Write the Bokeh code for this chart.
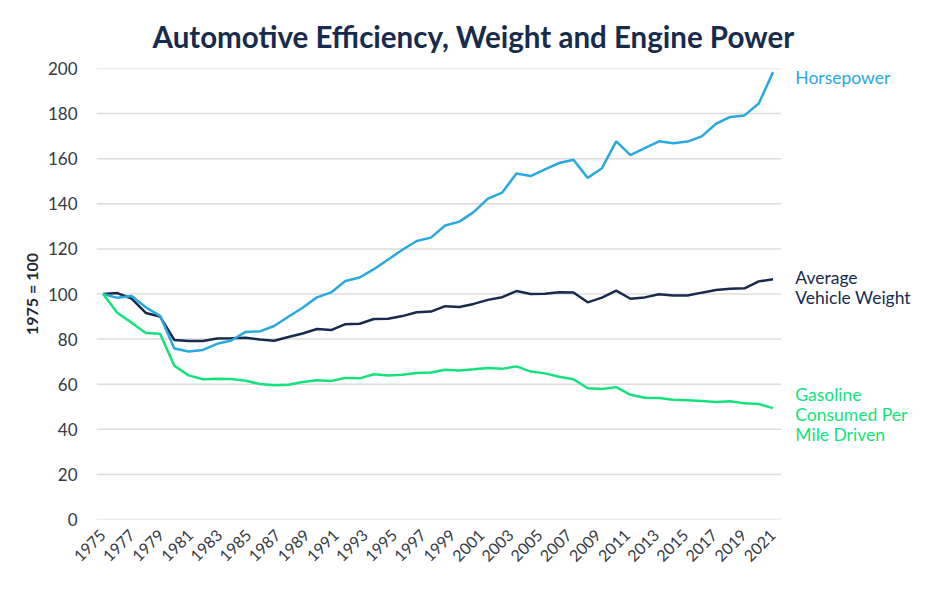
from math import pi
from bokeh.plotting import figure
from bokeh.models import Label, FixedTicker, Range1d
from bokeh.embed import file_html
from bokeh.resources import INLINE

# ---- data (index, 1975 = 100), annual observations 1975..2022 ----
years = list(range(1975, 2023))
tick_years = list(range(1975, 2022, 2))
tick_labels = [str(y) for y in tick_years]
y_ticks = list(range(0, 201, 20))

horsepower = [100.0, 98.3, 99.1, 94.1, 90.3, 75.8, 74.5, 75.2, 77.9, 79.4,
              83.2, 83.4, 85.8, 89.9, 93.9, 98.5, 100.7, 105.8, 107.3, 111.0,
              115.3, 119.6, 123.5, 125.0, 130.4, 132.1, 136.3, 142.3, 145.0, 153.4,
              152.3, 155.3, 158.1, 159.5, 151.5, 155.8, 167.7, 161.6, 164.7, 167.7,
              166.9, 167.6, 169.9, 175.5, 178.5, 179.2, 184.5, 198.4]
weight = [100.0, 100.4, 98.0, 91.6, 90.0, 79.6, 79.2, 79.2, 80.3, 80.4,
          80.6, 79.8, 79.3, 80.9, 82.5, 84.5, 84.0, 86.6, 86.8, 88.9,
          89.0, 90.2, 91.9, 92.2, 94.6, 94.2, 95.6, 97.4, 98.6, 101.3,
          100.0, 100.1, 100.8, 100.7, 96.3, 98.4, 101.5, 97.9, 98.5, 99.9,
          99.3, 99.3, 100.6, 101.8, 102.3, 102.5, 105.6, 106.5]
gasoline = [100.0, 91.7, 87.3, 82.7, 82.4, 68.2, 63.9, 62.2, 62.4, 62.3,
            61.5, 60.1, 59.5, 59.8, 61.0, 61.8, 61.4, 62.8, 62.6, 64.4,
            63.9, 64.2, 65.0, 65.2, 66.4, 66.1, 66.6, 67.2, 66.8, 67.9,
            65.6, 64.8, 63.3, 62.2, 58.2, 57.9, 58.7, 55.3, 54.0, 53.9,
            53.1, 52.9, 52.5, 52.1, 52.4, 51.5, 51.2, 49.4]

title_text = "Automotive Efficiency, Weight and Engine Power"
y_title = "1975 = 100"
hp_label = ["Horsepower"]
wt_label = ["Average", "Vehicle Weight"]
gas_label = ["Gasoline", "Consumed Per", "Mile Driven"]

C_HP = "#2aa8e0"
C_WT = "#172b4d"
C_GAS = "#14e37b"
C_TEXT = "#333a44"
FONT = "Lato"

# the axis labels span the first..last observation evenly
first, last = tick_years[0], tick_years[-1]
x_pos = [first + i * (last - first) / (len(years) - 1) for i in range(len(years))]

X0, X1 = 1974.55, 2021.55      # extent of the chart area (grid lines)
XR = 2031.4                     # room on the right for the end labels

p = figure(width=930, height=584, output_backend="svg", toolbar_location=None,
           x_range=Range1d(X0, XR), y_range=Range1d(0, 200),
           min_border_left=96, min_border_right=6, min_border_top=68,
           min_border_bottom=65)
p.outline_line_color = None
p.background_fill_color = "white"
p.border_fill_color = "white"

p.title.text = title_text
p.title.align = "left"
p.title.offset = 56
p.title.standoff = 29
p.title.text_font = FONT
p.title.text_font_size = "29.5px"
p.title.text_font_style = "bold"
p.title.text_color = C_WT

p.xgrid.grid_line_color = None
p.ygrid.grid_line_color = None
p.segment(x0=[X0] * len(y_ticks), y0=y_ticks, x1=[X1] * len(y_ticks), y1=y_ticks,
          line_color="#dcdcdc", line_width=1.5)

p.yaxis.ticker = FixedTicker(ticks=y_ticks)
p.yaxis.axis_line_color = None
p.yaxis.major_tick_line_color = None
p.yaxis.minor_tick_line_color = None
p.yaxis.major_label_standoff = 13
p.yaxis.major_label_text_font = FONT
p.yaxis.major_label_text_font_size = "17px"
p.yaxis.major_label_text_color = C_TEXT
p.yaxis.axis_label = y_title
p.yaxis.axis_label_text_font = FONT
p.yaxis.axis_label_text_font_size = "16px"
p.yaxis.axis_label_text_font_style = "bold"
p.yaxis.axis_label_text_color = "#222831"
p.yaxis.axis_label_standoff = 4

p.xaxis.ticker = FixedTicker(ticks=tick_years)
p.xaxis.major_label_overrides = {t: l for t, l in zip(tick_years, tick_labels)}
p.xaxis.axis_line_color = None
p.xaxis.major_tick_line_color = None
p.xaxis.minor_tick_line_color = None
p.xaxis.major_label_orientation = pi / 4
p.xaxis.major_label_standoff = 7
p.xaxis.major_label_text_font = FONT
p.xaxis.major_label_text_font_size = "16px"
p.xaxis.major_label_text_color = C_TEXT

p.line(x_pos, weight, line_color=C_WT, line_width=2.5)
p.line(x_pos, horsepower, line_color=C_HP, line_width=2.5)
p.line(x_pos, gasoline, line_color=C_GAS, line_width=2.5)

# end labels
x_lab = 2022.53
def add_block(lines, y_top, color):
    for k, t in enumerate(lines):
        p.add_layout(Label(x=x_lab, y=y_top - k * 8.87, text=t, text_align="left",
                           text_baseline="middle", text_font=FONT,
                           text_font_size="17.5px", text_color=color))

add_block(hp_label, 196.0, C_HP)
add_block(wt_label, 107.3, C_WT)
add_block(gas_label, 55.4, C_GAS)

open("out.html", "w").write(file_html(p, INLINE))
